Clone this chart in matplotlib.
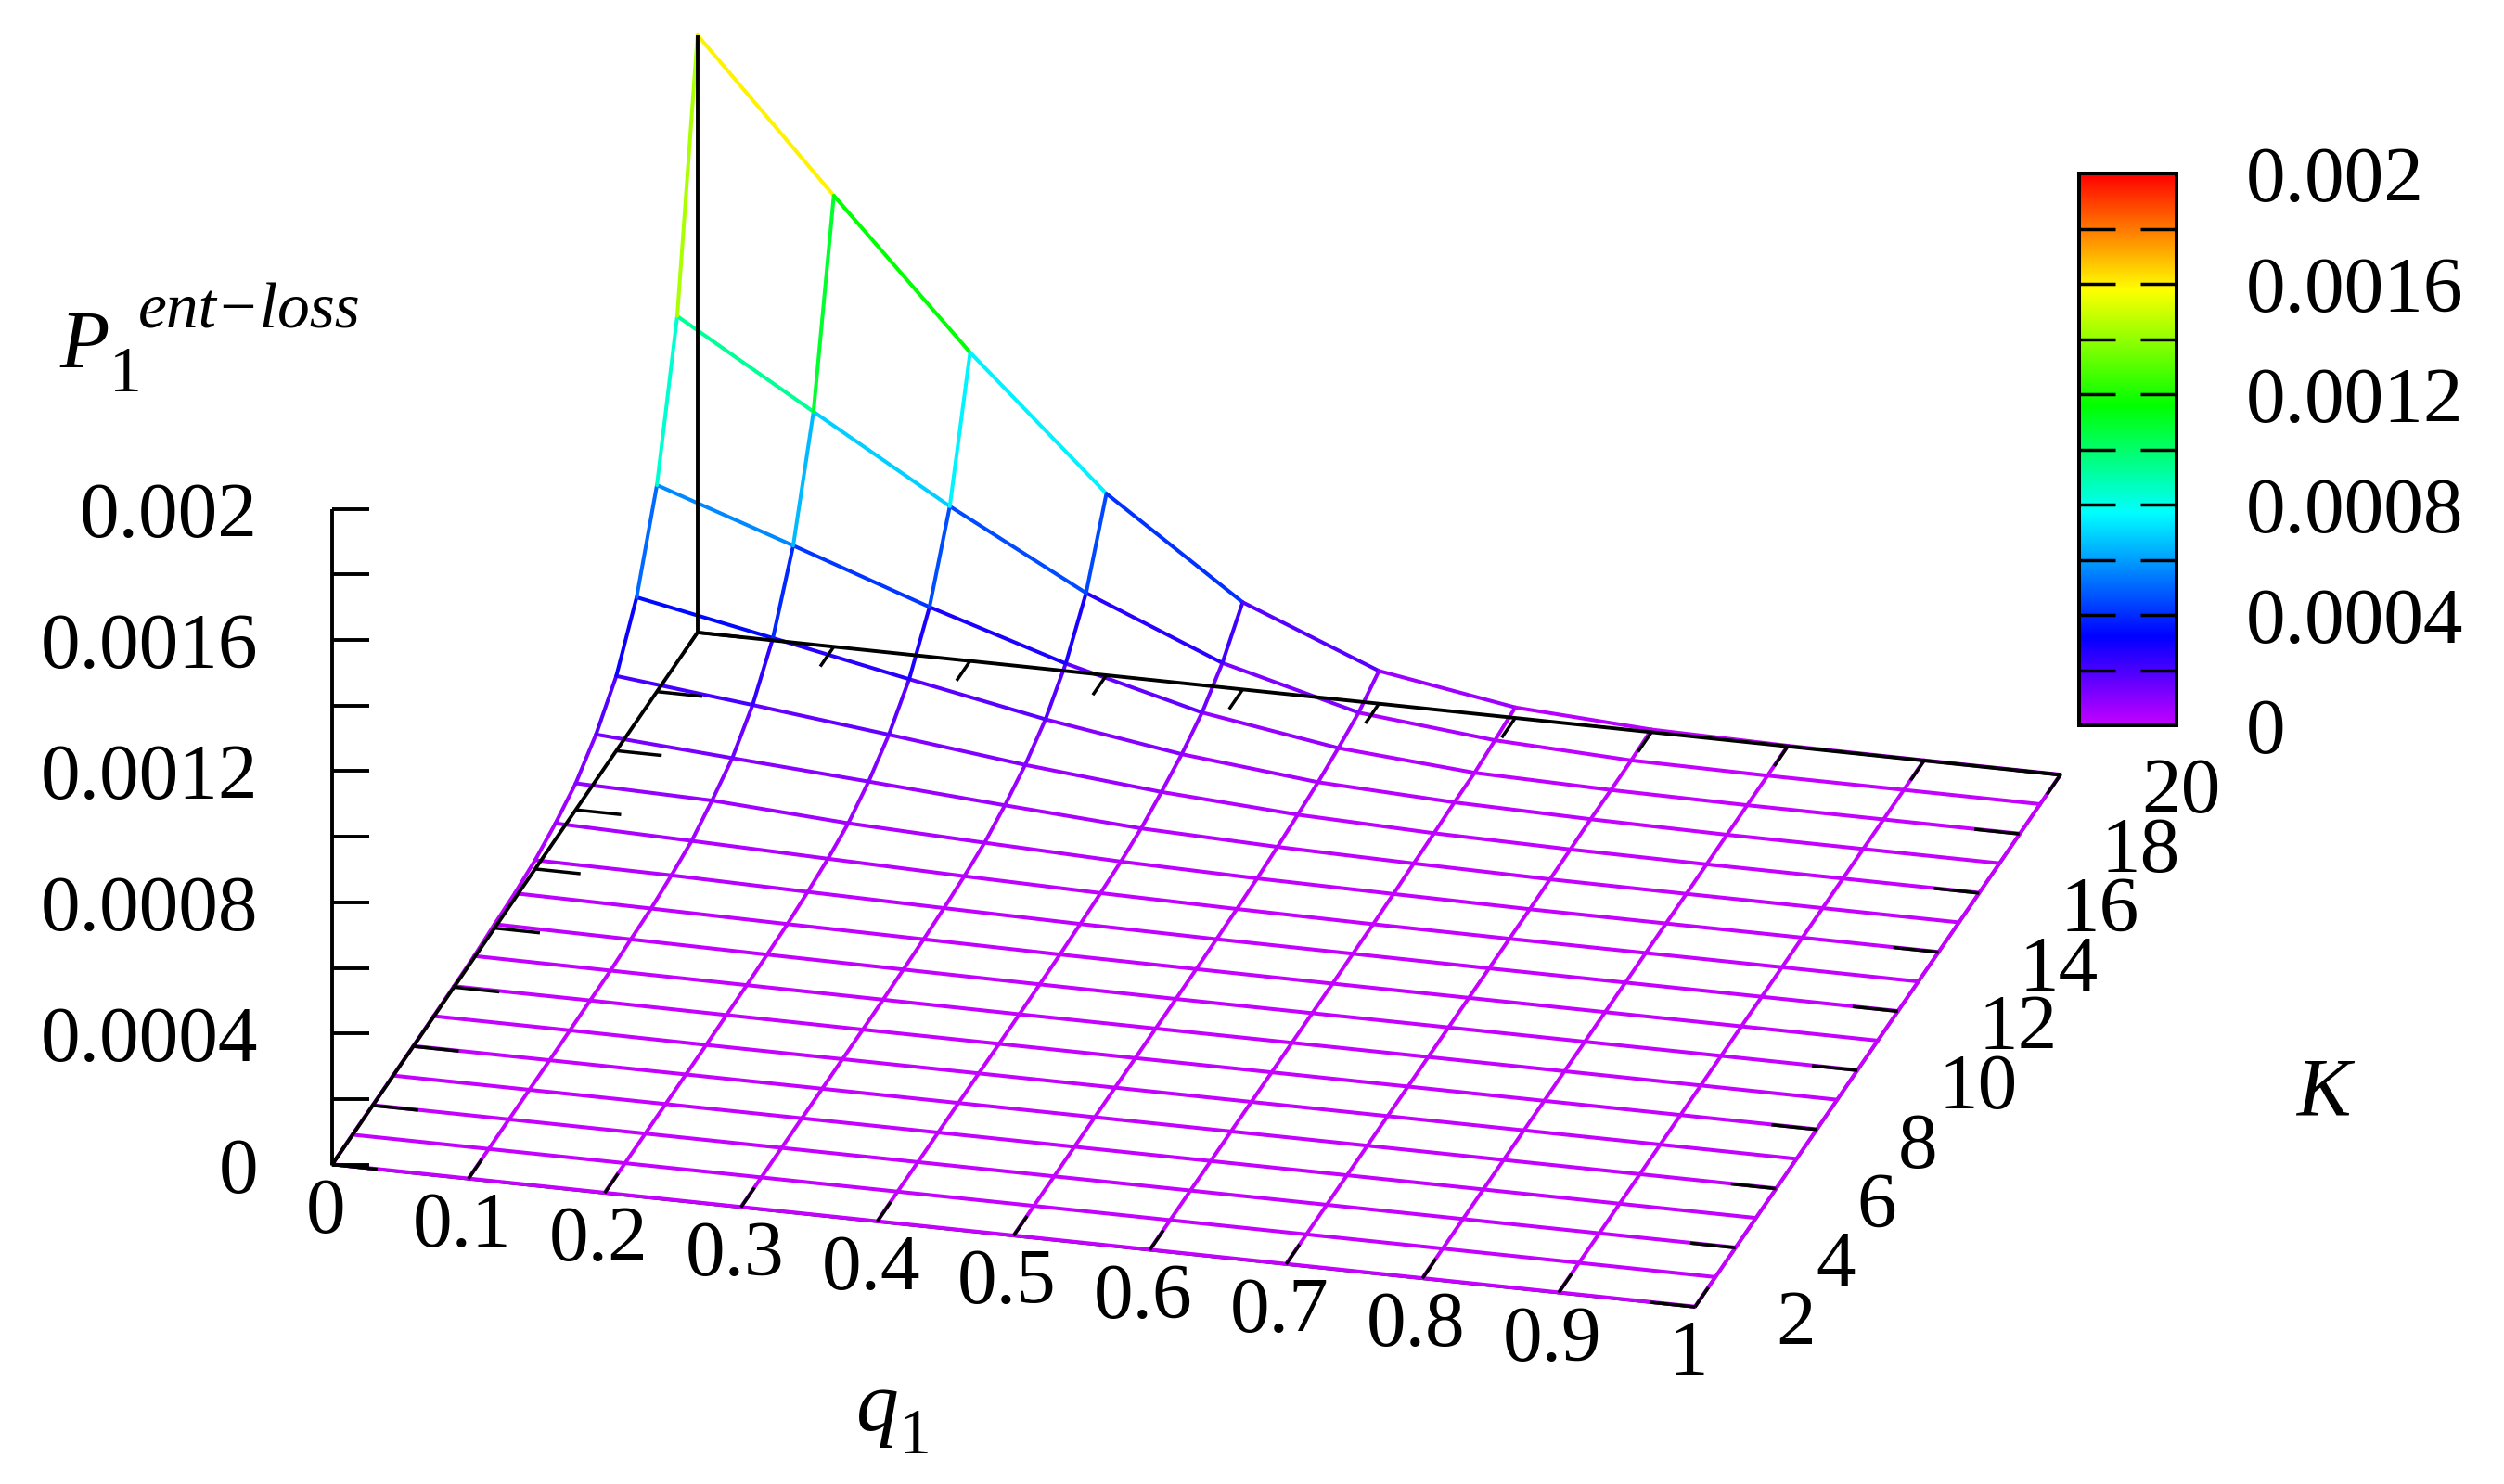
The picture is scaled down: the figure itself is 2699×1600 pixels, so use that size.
import numpy as np
import matplotlib
matplotlib.use('Agg')
import matplotlib.pyplot as plt
from matplotlib.collections import LineCollection
from matplotlib.colors import LinearSegmentedColormap, Normalize

# axis values
q_values = [0.0, 0.1, 0.2, 0.3, 0.4, 0.5, 0.6, 0.7, 0.8, 0.9, 1.0]
k_values = list(range(2, 21))
q_labels = ['0', '0.1', '0.2', '0.3', '0.4', '0.5', '0.6', '0.7', '0.8', '0.9', '1']
k_ticks = [2, 4, 6, 8, 10, 12, 14, 16, 18, 20]
z_ticks = [0, 0.0002, 0.0004, 0.0006, 0.0008, 0.001, 0.0012, 0.0014, 0.0016, 0.0018, 0.002]
z_labelled = [0, 0.0004, 0.0008, 0.0012, 0.0016, 0.002]
z_labels = ['0', '0.0004', '0.0008', '0.0012', '0.0016', '0.002']

# surface values, one list per K, in units of 1e-6
p_k02 = [1, 1, 1, 1, 1, 1, 1, 1, 1, 1, 1]
p_k03 = [1, 1, 1, 1, 1, 1, 1, 1, 1, 1, 1]
p_k04 = [1, 1, 1, 1, 1, 1, 1, 1, 1, 1, 1]
p_k05 = [1, 1, 1, 1, 1, 1, 1, 1, 1, 1, 1]
p_k06 = [1, 1, 1, 1, 1, 1, 1, 1, 1, 1, 1]
p_k07 = [2, 2, 1, 1, 1, 1, 1, 1, 1, 1, 1]
p_k08 = [3, 3, 2, 1, 1, 1, 1, 1, 1, 1, 1]
p_k09 = [5, 4, 3, 2, 1, 1, 1, 1, 1, 1, 1]
p_k10 = [12, 9, 6, 4, 2, 1, 1, 1, 1, 1, 1]
p_k11 = [16, 13, 9, 6, 3, 2, 1, 1, 1, 1, 1]
p_k12 = [27, 24, 17, 11, 6, 3, 2, 1, 1, 1, 1]
p_k13 = [49, 39, 28, 18, 10, 5, 2, 1, 1, 1, 1]
p_k14 = [81, 72, 46, 30, 16, 8, 4, 1, 1, 1, 1]
p_k15 = [140, 111, 83, 54, 27, 14, 7, 2, 1, 1, 1]
p_k16 = [228, 183, 136, 87, 48, 22, 9, 3, 1, 1, 1]
p_k17 = [378, 297, 215, 136, 73, 31, 13, 5, 1, 1, 1]
p_k18 = [630, 489, 345, 216, 110, 45, 13, 4, 1, 1, 1]
p_k19 = [1055, 807, 562, 341, 171, 63, 22, 4, 1, 1, 1]
p_k20 = [1822, 1376, 941, 554, 266, 100, 32, 8, 2, 1, 1]

surface = np.array([p_k02, p_k03, p_k04, p_k05, p_k06, p_k07, p_k08, p_k09, p_k10, p_k11,
                    p_k12, p_k13, p_k14, p_k15, p_k16, p_k17, p_k18, p_k19, p_k20]) * 1e-6

# gnuplot style fixed view, everything goes through this
def project(q, k, z=0.0):
    x = 358 + 1469 * np.asarray(q) + 21.88 * (np.asarray(k) - 2)
    y = 1255.6 + 153.5 * np.asarray(q) - 31.87 * (np.asarray(k) - 2) - 707 / 0.002 * np.asarray(z)
    return x, y

def draw3d(ax, qs, ks, zs=(0, 0), lw=2.8, color='black', zorder=5):
    x, y = project(np.array(qs), np.array(ks), np.array(zs))
    ax.plot(x, y, color=color, lw=lw, zorder=zorder, solid_capstyle='butt')

palette = LinearSegmentedColormap.from_list('rainbow_pm3d', [
    (0.0, '#c400ff'), (0.16, '#0000ff'), (0.385, '#00ffff'),
    (0.58, '#00ff00'), (0.79, '#ffff00'), (1.0, '#ff0000')], N=512)
norm = Normalize(0, 0.002)

plt.rcParams['font.family'] = ['Liberation Serif', 'DejaVu Serif']
fig = plt.figure(figsize=(26.99, 16), dpi=100)
ax = fig.add_axes([0, 0, 1, 1])

# borders behind the surface
draw3d(ax, [0, 1], [2, 2], lw=2.4, zorder=1)
draw3d(ax, [1, 1], [2, 20], lw=2.4, zorder=1)

# surface wireframe, each segment coloured by its mean height
segments = []
seg_values = []
n_k, n_q = surface.shape
for i in range(n_k):
    for j in range(n_q):
        x0, y0 = project(q_values[j], k_values[i], surface[i, j])
        if j + 1 < n_q:
            x1, y1 = project(q_values[j + 1], k_values[i], surface[i, j + 1])
            segments.append([(x0, y0), (x1, y1)])
            seg_values.append((surface[i, j] + surface[i, j + 1]) / 2)
        if i + 1 < n_k:
            x1, y1 = project(q_values[j], k_values[i + 1], surface[i + 1, j])
            segments.append([(x0, y0), (x1, y1)])
            seg_values.append((surface[i, j] + surface[i + 1, j]) / 2)
lines = LineCollection(segments, cmap=palette, norm=norm, linewidths=2.9, capstyle='round', zorder=2)
lines.set_array(np.array(seg_values))
ax.add_collection(lines)

# borders on top
draw3d(ax, [0, 0], [2, 20])
draw3d(ax, [0, 1], [20, 20])
draw3d(ax, [0, 0], [2, 2], [0, 0.002])
draw3d(ax, [0, 0], [20, 20], [0, surface[-1, 0]])

# ticks
for z in z_ticks:
    x, y = project(0, 2, z)
    ax.plot([x, x + 40], [y, y], color='black', lw=2.8, zorder=5, solid_capstyle='butt')
for q in q_values:
    draw3d(ax, [q, q], [2, 2.667], lw=2.5)
    draw3d(ax, [q, q], [20, 19.333], lw=2.5)
for k in k_ticks:
    draw3d(ax, [0, 0.0333], [k, k], lw=2.5)
    draw3d(ax, [1, 0.9667], [k, k], lw=2.5)

# tick labels
label_size = 61.5
digit_half = 30
for z, lab in zip(z_labelled, z_labels):
    x, y = project(0, 2, z)
    ax.text(278, y + digit_half, lab, ha='right', va='baseline', fontsize=label_size)
for q, lab in zip(q_values, q_labels):
    x, y = project(q, 2)
    ax.text(x - 7, y + 43 + digit_half, lab, ha='center', va='baseline', fontsize=label_size)
for k in k_ticks:
    x, y = project(1, k)
    ax.text(x + 87, y + 11 + digit_half, str(k), ha='left', va='baseline', fontsize=label_size)

# axis titles
ax.text(64, 395, 'P', style='italic', ha='left', va='baseline', fontsize=63)
ax.text(118, 421.7, '1', ha='left', va='baseline', fontsize=50)
ax.text(149, 353, 'ent\u2212loss', style='italic', ha='left', va='baseline', fontsize=50)
ax.text(923, 1541.7, 'q', style='italic', ha='left', va='baseline', fontsize=66)
ax.text(969, 1567, '1', ha='left', va='baseline', fontsize=50)
ax.text(2475, 1201, 'K', style='italic', ha='left', va='baseline', fontsize=63)

# colour box
box_left, box_right, box_top, box_bottom = 2241, 2345.7, 187, 782
gradient = np.linspace(0.002, 0, 512).reshape(-1, 1)
ax.imshow(gradient, cmap=palette, norm=norm, aspect='auto', interpolation='bilinear',
          extent=(box_left, box_right, box_bottom, box_top), zorder=3)
ax.plot([box_left, box_right, box_right, box_left, box_left],
        [box_top, box_top, box_bottom, box_bottom, box_top],
        color='black', lw=2.9, zorder=5, solid_joinstyle='miter')
for z in z_ticks[1:-1]:
    y = box_bottom - (box_bottom - box_top) * z / 0.002
    ax.plot([box_left, box_left + 39], [y, y], color='black', lw=2.5, zorder=5, solid_capstyle='butt')
    ax.plot([box_right - 39, box_right], [y, y], color='black', lw=2.5, zorder=5, solid_capstyle='butt')
for z, lab in zip(z_labelled, z_labels):
    y = box_bottom - (box_bottom - box_top) * z / 0.002
    ax.text(2421, y + digit_half, lab, ha='left', va='baseline', fontsize=label_size)

ax.set_xlim(0, 2699)
ax.set_ylim(1600, 0)
ax.axis('off')

fig.savefig('out.png', dpi=100, facecolor='white')
